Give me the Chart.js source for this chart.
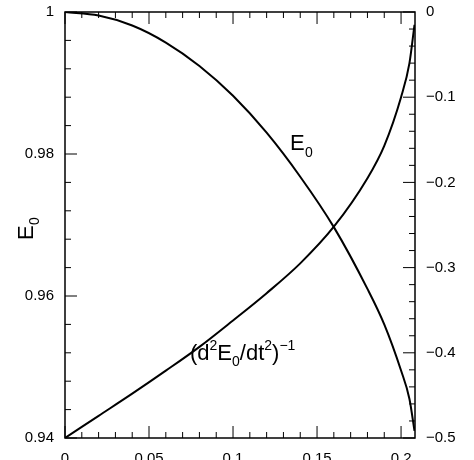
<!DOCTYPE html>
<html><head><meta charset="utf-8">
<script src="https://cdn.jsdelivr.net/npm/chart.js@4"></script>
<style>body{margin:0;background:#fff}</style>
</head><body>
<canvas id="c" width="474" height="460"></canvas>
<script>
const tValues = [0, 0.02, 0.04, 0.06, 0.08, 0.1, 0.12, 0.14, 0.16, 0.18, 0.19, 0.2, 0.205, 0.208];
const e0Values = [1, 0.9995, 0.9981, 0.9957, 0.9924, 0.9882, 0.9830, 0.9768, 0.9697, 0.9610, 0.9560, 0.9495, 0.9455, 0.9410];
const invValues = [-0.5, -0.474, -0.448, -0.421, -0.393, -0.362, -0.330, -0.295, -0.252, -0.195, -0.157, -0.100, -0.060, -0.015];
const xTicks = [0, 0.05, 0.1, 0.15, 0.2];

const F = '"Liberation Sans", Arial, sans-serif';
const pts = (ys) => tValues.map((t, i) => ({ x: t, y: ys[i] }));

const frame = {
  id: 'frame',
  afterDraw(chart) {
    const { ctx, chartArea: a, scales } = chart;
    ctx.save();
    ctx.strokeStyle = '#000';
    ctx.lineWidth = 1.5;
    ctx.strokeRect(a.left, a.top, a.right - a.left, a.bottom - a.top);
    ctx.lineWidth = 1;
    for (let v = 0; v <= 0.2081; v += 0.01) {
      const major = Math.abs(v / 0.05 - Math.round(v / 0.05)) < 1e-6;
      const px = scales.x.getPixelForValue(v), L = major ? 12 : 6;
      ctx.beginPath(); ctx.moveTo(px, a.bottom); ctx.lineTo(px, a.bottom - L);
      ctx.moveTo(px, a.top); ctx.lineTo(px, a.top + L); ctx.stroke();
    }
    for (let v = 0.94; v <= 1.0001; v += 0.004) {
      const major = Math.abs((v - 0.94) / 0.02 - Math.round((v - 0.94) / 0.02)) < 1e-6;
      const py = scales.y.getPixelForValue(v), L = major ? 12 : 6;
      ctx.beginPath(); ctx.moveTo(a.left, py); ctx.lineTo(a.left + L, py); ctx.stroke();
    }
    for (let v = -0.5; v <= 0.0001; v += 0.02) {
      const major = Math.abs(v / 0.1 - Math.round(v / 0.1)) < 1e-6;
      const py = scales.y2.getPixelForValue(v), L = major ? 12 : 6;
      ctx.beginPath(); ctx.moveTo(a.right, py); ctx.lineTo(a.right - L, py); ctx.stroke();
    }
    ctx.fillStyle = '#000';
    ctx.font = '22px ' + F;
    ctx.fillText('E', 290, 150);
    ctx.font = '14px ' + F; ctx.fillText('0', 305, 157);
    let x = 190, y = 360;
    const seg = (s, f, dy) => { ctx.font = f + 'px ' + F; ctx.fillText(s, x, y + dy); x += ctx.measureText(s).width; };
    seg('(d', 22, 0); seg('2', 14, -10); seg('E', 22, 0); seg('0', 14, 6); seg('/dt', 22, 0); seg('2', 14, -10); seg(')', 22, 0); seg('−1', 14, -10);
    ctx.translate(25, 232); ctx.rotate(-Math.PI / 2);
    ctx.font = '22px ' + F; ctx.fillText('E', -8, 8);
    ctx.font = '14px ' + F; ctx.fillText('0', 7, 14);
    ctx.restore();
  }
};

new Chart(document.getElementById('c'), {
  type: 'scatter',
  data: { datasets: [
    { data: pts(e0Values), yAxisID: 'y', showLine: true, borderColor: '#000', borderWidth: 2, pointRadius: 0, cubicInterpolationMode: 'monotone' },
    { data: pts(invValues), yAxisID: 'y2', showLine: true, borderColor: '#000', borderWidth: 2, pointRadius: 0, cubicInterpolationMode: 'monotone' }
  ] },
  options: {
    responsive: false, animation: false,
    layout: { padding: { top: 8 } },
    plugins: { legend: { display: false }, tooltip: { enabled: false } },
    scales: {
      x: { type: 'linear', min: 0, max: 0.2083, grid: { display: false }, border: { display: false },
        afterBuildTicks: s => { s.ticks = xTicks.map(v => ({ value: v })); },
        afterFit: s => { s.height = 22; },
        ticks: { color: '#000', padding: 4, font: { family: F, size: 15 }, callback: v => String(+v.toFixed(2)) } },
      y: { position: 'left', min: 0.94, max: 1, grid: { display: false }, border: { display: false },
        afterFit: s => { s.width = 65; },
        ticks: { stepSize: 0.02, color: '#000', font: { family: F, size: 15 }, callback: v => String(+v.toFixed(2)) } },
      y2: { position: 'right', min: -0.5, max: 0, grid: { display: false }, border: { display: false },
        afterFit: s => { s.width = 59; },
        ticks: { stepSize: 0.1, color: '#000', font: { family: F, size: 15 }, callback: v => v === 0 ? '0' : '−' + Math.abs(v).toFixed(1) } }
    }
  },
  plugins: [frame]
});
</script>
</body></html>
